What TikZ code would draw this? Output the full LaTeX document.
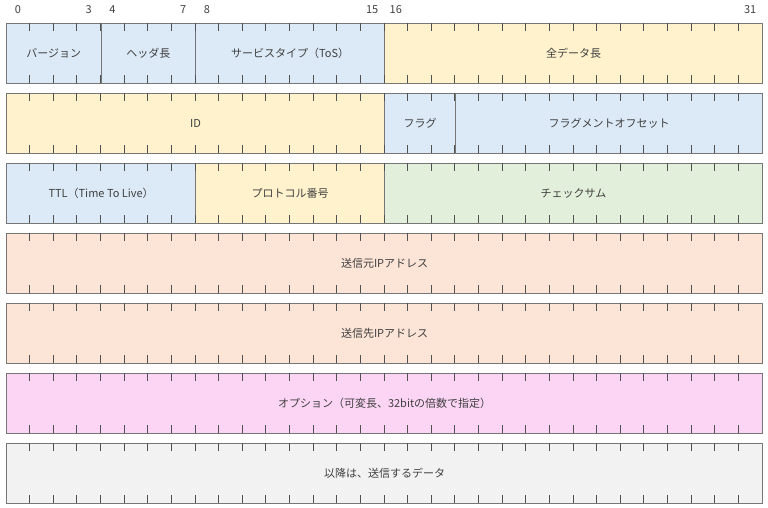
\documentclass[tikz,border=0pt]{standalone}
\usepackage{fontspec}
\setmainfont{Noto Sans CJK JP}
\definecolor{cblue}{HTML}{DCE9F6}
\definecolor{cyellow}{HTML}{FFF2CC}
\definecolor{cgreen}{HTML}{E2EFDA}
\definecolor{cpeach}{HTML}{FCE4D6}
\definecolor{cpink}{HTML}{FCD5F4}
\definecolor{cgray}{HTML}{F2F2F2}
\definecolor{cline}{HTML}{767676}
\definecolor{ctick}{HTML}{505050}
\definecolor{ctext}{HTML}{404040}
\newcommand\bw{23.625}
\newcommand\fld[6]{%
  \node[field, fill=#5, minimum width={(#4-#3)*\bw*1pt}, anchor=north west]
    (#1) at ({6+#3*\bw}, {-(23+70*#2)}) {#6};}
\begin{document}
\begin{tikzpicture}[x=1pt,y=1pt,
  field/.style={draw=cline, line width=1.2pt, minimum height=60pt, inner sep=0pt,
    text=ctext, font=\fontsize{11}{13}\selectfont},
  tickmark/.style={draw=ctick, line width=0.9pt},
  bitnum/.style={text=ctext, font=\fontsize{11}{13}\selectfont, inner sep=0pt}]
\useasboundingbox (0,0) rectangle (768,-507);
% row 0
\fld{ver}{0}{0}{4}{cblue}{バージョン}
\fld{ihl}{0}{4}{8}{cblue}{ヘッダ長}
\fld{tos}{0}{8}{16}{cblue}{サービスタイプ（ToS）}
\fld{tlen}{0}{16}{32}{cyellow}{全データ長}
% row 1
\fld{id}{1}{0}{16}{cyellow}{ID}
\fld{flag}{1}{16}{19}{cblue}{フラグ}
\fld{frag}{1}{19}{32}{cblue}{フラグメントオフセット}
% row 2
\fld{ttl}{2}{0}{8}{cblue}{TTL（Time To Live）}
\fld{proto}{2}{8}{16}{cyellow}{プロトコル番号}
\fld{csum}{2}{16}{32}{cgreen}{チェックサム}
% rows 3-6
\fld{src}{3}{0}{32}{cpeach}{送信元IPアドレス}
\fld{dst}{4}{0}{32}{cpeach}{送信先IPアドレス}
\fld{opt}{5}{0}{32}{cpink}{オプション（可変長、32bitの倍数で指定）}
\fld{data}{6}{0}{32}{cgray}{以降は、送信するデータ}
% ticks
\foreach \r in {0,...,6}{
  \foreach \i in {1,...,31}{
    \draw[tickmark] ({6+\i*\bw}, {-(23+70*\r)}) -- ++(0,-8);
    \draw[tickmark] ({6+\i*\bw}, {-(83+70*\r)}) -- ++(0,8);
  }
}
% bit numbers
\foreach \b in {0,3,4,7,8,15,16,31}{
  \node[bitnum] (b\b) at ({6+(\b+0.5)*\bw}, -10) {\b};
}
\end{tikzpicture}
\end{document}
